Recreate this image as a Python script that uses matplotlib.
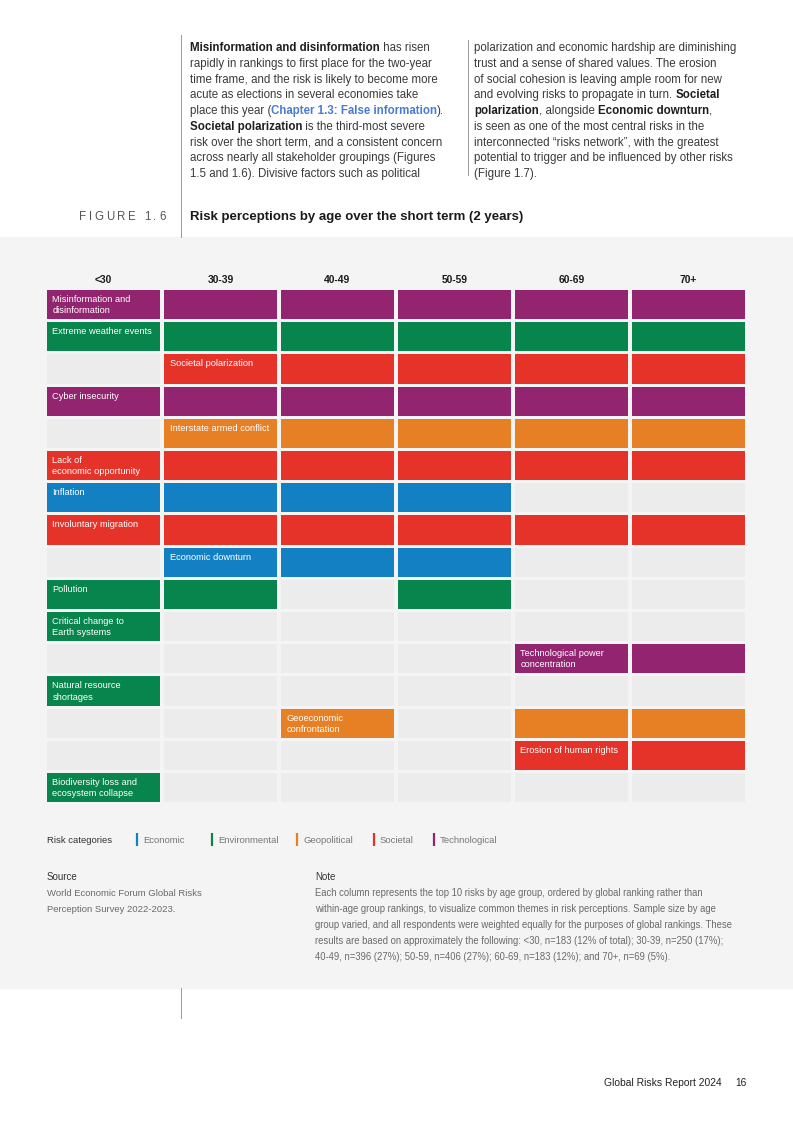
import matplotlib
matplotlib.use("Agg")
import matplotlib.pyplot as plt

plt.rcParams['font.family'] = ['Liberation Sans', 'DejaVu Sans']

# ---- data ----
age_groups = ["<30", "30-39", "40-49", "50-59", "60-69", "70+"]
risks = [
    "Misinformation and\ndisinformation",
    "Extreme weather events",
    "Societal polarization",
    "Cyber insecurity",
    "Interstate armed conflict",
    "Lack of\neconomic opportunity",
    "Inflation",
    "Involuntary migration",
    "Economic downturn",
    "Pollution",
    "Critical change to\nEarth systems",
    "Technological power\nconcentration",
    "Natural resource\nshortages",
    "Geoeconomic\nconfrontation",
    "Erosion of human rights",
    "Biodiversity loss and\necosystem collapse",
]
risk_category = [
    "Technological", "Environmental", "Societal", "Technological",
    "Geopolitical", "Societal", "Economic", "Societal", "Economic",
    "Environmental", "Environmental", "Technological", "Environmental",
    "Geopolitical", "Societal", "Environmental",
]
# age-group columns (0 = <30 ... 5 = 70+) where the risk is in the top 10
in_top10 = [
    [0, 1, 2, 3, 4, 5],
    [0, 1, 2, 3, 4, 5],
    [1, 2, 3, 4, 5],
    [0, 1, 2, 3, 4, 5],
    [1, 2, 3, 4, 5],
    [0, 1, 2, 3, 4, 5],
    [0, 1, 2, 3],
    [0, 1, 2, 3, 4, 5],
    [1, 2, 3],
    [0, 1, 3],
    [0],
    [4, 5],
    [0],
    [2, 4, 5],
    [4, 5],
    [0],
]
categories = ["Economic", "Environmental", "Geopolitical", "Societal", "Technological"]
cat_colors = {
    "Economic": "#1380c4",
    "Environmental": "#08844d",
    "Geopolitical": "#e77f25",
    "Societal": "#e5332a",
    "Technological": "#93246f",
}
empty_color = "#ececec"
panel_color = "#f4f4f4"

W, H = 793, 1122
fig = plt.figure(figsize=(W / 100, H / 100), dpi=100)

# page-level axes in pixel units
bg = fig.add_axes([0, 0, 1, 1])
bg.set_xlim(0, W)
bg.set_ylim(H, 0)
bg.axis("off")
bg.axhspan(237, 988, color=panel_color, zorder=0)

line_c = "#9a9a9a"
bg.plot([181, 181], [35, 237], color=line_c, lw=0.7)
bg.plot([468, 468], [40, 175], color=line_c, lw=0.7)
bg.plot([181, 181], [988, 1018], color=line_c, lw=0.7)

# ---- intro text (two columns with mixed styles) ----
fs_body = 8.3
styles = {
    "n": dict(color="#3a3a3a", fontsize=fs_body),
    "b": dict(color="#1e1e1e", fontsize=fs_body, fontweight="bold"),
    "l": dict(color="#4a7bd4", fontsize=fs_body, fontweight="bold"),
}


def rich_line(x, y, parts):
    prev = None
    for txt, st in parts:
        if prev is None:
            prev = bg.text(x, y, txt, va="baseline", ha="left", **styles[st])
        else:
            prev = bg.annotate(txt, xy=(1, 0), xycoords=prev, va="bottom",
                               ha="left", **styles[st])


left_col = [
    [("Misinformation and disinformation", "b"), (" has risen", "n")],
    [("rapidly in rankings to first place for the two-year", "n")],
    [("time frame, and the risk is likely to become more", "n")],
    [("acute as elections in several economies take", "n")],
    [("place this year (", "n"), ("Chapter 1.3: False information", "l"), (").", "n")],
    [("Societal polarization", "b"), (" is the third-most severe", "n")],
    [("risk over the short term, and a consistent concern", "n")],
    [("across nearly all stakeholder groupings (Figures", "n")],
    [("1.5 and 1.6). Divisive factors such as political", "n")],
]
right_col = [
    [("polarization and economic hardship are diminishing", "n")],
    [("trust and a sense of shared values. The erosion", "n")],
    [("of social cohesion is leaving ample room for new", "n")],
    [("and evolving risks to propagate in turn. ", "n"), ("Societal", "b")],
    [("polarization", "b"), (", alongside ", "n"), ("Economic downturn", "b"), (",", "n")],
    [("is seen as one of the most central risks in the", "n")],
    [("interconnected \u201crisks network\u201d, with the greatest", "n")],
    [("potential to trigger and be influenced by other risks", "n")],
    [("(Figure 1.7).", "n")],
]
for k, parts in enumerate(left_col):
    rich_line(190, 51 + k * 15.75, parts)
for k, parts in enumerate(right_col):
    rich_line(474, 51 + k * 15.75, parts)

# ---- figure title ----
prev = bg.text(79, 220, "F", va="baseline", ha="left", color="#555555", fontsize=8.3)
for ch in "IGURE 1.6":
    prev = bg.annotate(ch, xy=(1, 0), xycoords=prev, xytext=(1.9, 0),
                       textcoords="offset points", va="bottom", ha="left",
                       color="#555555", fontsize=8.3)
bg.text(190, 220, "Risk perceptions by age over the short term (2 years)",
        va="baseline", ha="left", color="#1a1a1a", fontsize=9.5, fontweight="bold")

# ---- grid of cells ----
col_pitch, col_w = 117.0, 113.0
row_pitch, row_h = 32.2, 29.2
n_cols, n_rows = len(age_groups), len(risks)
w = col_w / col_pitch
h = row_h / row_pitch

left = 47
top = 290
right = left + col_pitch * n_cols - (col_pitch - col_w)
bottom = top + row_pitch * n_rows - (row_pitch - row_h)
ax = fig.add_axes([left / W, 1 - bottom / H, (right - left) / W, (bottom - top) / H])
ax.set_xlim(0, n_cols - 1 + w)
ax.set_ylim(n_rows - 1 + h, 0)
ax.axis("off")

for i, name in enumerate(risks):
    cols = in_top10[i]
    colors = [cat_colors[risk_category[i]] if j in cols else empty_color
              for j in range(n_cols)]
    ax.barh([i] * n_cols, [w] * n_cols, left=list(range(n_cols)), height=h,
            align="edge", color=colors, linewidth=0)
    first = min(cols)
    ax.text(first + 5.5 / col_pitch, i + 5.0 / row_pitch, name, va="top", ha="left",
            color="white", fontsize=6.7, linespacing=1.3)

for j, g in enumerate(age_groups):
    ax.text(j + w / 2, -10.0 / row_pitch, g, va="center", ha="center", color="#1a1a1a",
            fontsize=7.4, fontweight="bold", clip_on=False)

# ---- legend ----
bg.text(47, 843, "Risk categories", va="baseline", ha="left", color="#333333", fontsize=6.8)
leg_x = [137, 212, 297, 374, 434]
for x, c in zip(leg_x, categories):
    bg.plot([x, x], [833, 846], color=cat_colors[c], lw=1.6, solid_capstyle="butt")
    bg.text(x + 6, 843, c, va="baseline", ha="left", color="#777777", fontsize=6.8)

# ---- source & note ----
src_lines = ["World Economic Forum Global Risks", "Perception Survey 2022-2023."]
note_lines = [
    "Each column represents the top 10 risks by age group, ordered by global ranking rather than",
    "within-age group rankings, to visualize common themes in risk perceptions. Sample size by age",
    "group varied, and all respondents were weighted equally for the purposes of global rankings. These",
    "results are based on approximately the following: <30, n=183 (12% of total); 30-39, n=250 (17%);",
    "40-49, n=396 (27%); 50-59, n=406 (27%); 60-69, n=183 (12%); and 70+, n=69 (5%).",
]
bg.text(47, 880, "Source", va="baseline", ha="left", color="#333333", fontsize=7.0)
bg.text(315, 880, "Note", va="baseline", ha="left", color="#333333", fontsize=7.0)
for k, s in enumerate(src_lines):
    bg.text(47, 896 + k * 16.1, s, va="baseline", ha="left", color="#6a6a6a", fontsize=6.8)
for k, s in enumerate(note_lines):
    bg.text(315, 896 + k * 16.1, s, va="baseline", ha="left", color="#6a6a6a", fontsize=6.85)

# ---- footer ----
bg.text(604, 1086, "Global Risks Report 2024", va="baseline", ha="left",
        color="#222222", fontsize=7.4)
bg.text(735, 1086, "16", va="baseline", ha="left", color="#222222", fontsize=7.4)

fig.savefig("out.png", dpi=100, facecolor="white")
